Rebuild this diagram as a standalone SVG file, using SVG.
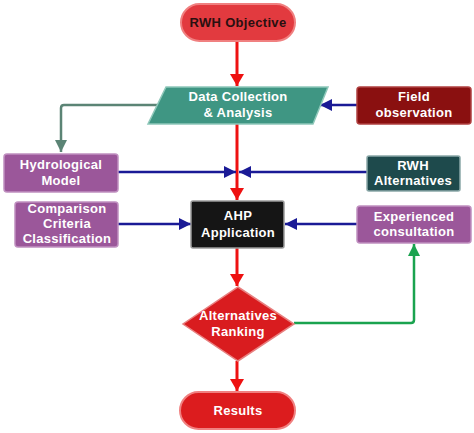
<svg xmlns="http://www.w3.org/2000/svg" width="474" height="433" viewBox="0 0 474 433">
<style>
text{font-family:"Liberation Sans",Arial,sans-serif;font-weight:bold;font-size:13px;text-anchor:middle;fill:#fff;letter-spacing:0.3px}
.dark{fill:#2a1010}
.red{stroke:#ee1111;stroke-width:3;fill:none}
.blue{stroke:#1a1a96;stroke-width:2.5;fill:none}
.grn{stroke:#1aa34f;stroke-width:2.5;fill:none}
.gry{stroke:#5b8475;stroke-width:2.5;fill:none}
</style>
<defs>
<marker id="mr" markerWidth="12" markerHeight="14" refX="12" refY="7" orient="auto" markerUnits="userSpaceOnUse"><path d="M0,0L12,7L0,14z" fill="#ee1111"/></marker>
<marker id="mb" markerWidth="12" markerHeight="12" refX="12" refY="6" orient="auto" markerUnits="userSpaceOnUse"><path d="M0,0L12,6L0,12z" fill="#1a1a96"/></marker>
<marker id="mg" markerWidth="12" markerHeight="12" refX="12" refY="6" orient="auto" markerUnits="userSpaceOnUse"><path d="M0,0L12,6L0,12z" fill="#1aa34f"/></marker>
<marker id="my" markerWidth="12" markerHeight="12" refX="12" refY="6" orient="auto" markerUnits="userSpaceOnUse"><path d="M0,0L12,6L0,12z" fill="#5b8475"/></marker>
</defs>
<g id="connectors">
<line class="red" x1="237" y1="41" x2="237" y2="86" marker-end="url(#mr)"/>
<line class="red" x1="237" y1="124" x2="237" y2="200" marker-end="url(#mr)"/>
<line class="red" x1="237" y1="248" x2="237" y2="286" marker-end="url(#mr)"/>
<line class="red" x1="237" y1="361" x2="237" y2="391" marker-end="url(#mr)"/>
<line class="blue" x1="357" y1="105" x2="320" y2="105" marker-end="url(#mb)"/>
<line class="blue" x1="118" y1="172" x2="236" y2="172" marker-end="url(#mb)"/>
<line class="blue" x1="367" y1="172" x2="239" y2="172" marker-end="url(#mb)"/>
<line class="blue" x1="118" y1="224" x2="191" y2="224" marker-end="url(#mb)"/>
<line class="blue" x1="357" y1="224" x2="285" y2="224" marker-end="url(#mb)"/>
<path class="gry" d="M157,105H64Q61,105 61,108V152" marker-end="url(#my)"/>
<path class="grn" d="M294,323H411Q414,323 414,320V244" marker-end="url(#mg)"/>
</g>
<g id="rwh-objective">
<rect x="181" y="4" width="114" height="37" rx="18.5" fill="#e23a3f" stroke="#f08080" stroke-width="2"/>
<text class="dark" x="238" y="27">RWH Objective</text>
</g>
<g id="data-collection">
<path d="M166,87H328L313,124H148z" fill="#3f9683" stroke="#8fc8ba" stroke-width="1.5"/>
<text x="238" y="101">Data Collection</text>
<text x="238" y="117">&amp; Analysis</text>
</g>
<g id="field-observation">
<rect x="357" y="87" width="114" height="37" rx="3" fill="#8a1010" stroke="#b04040" stroke-width="1.5"/>
<text x="414" y="101">Field</text>
<text x="414" y="117">observation</text>
</g>
<g id="hydrological-model">
<rect x="4" y="154" width="114" height="38" rx="3" fill="#9b579a" stroke="#c090c0" stroke-width="1.5"/>
<text x="61" y="169">Hydrological</text>
<text x="61" y="185">Model</text>
</g>
<g id="rwh-alternatives">
<rect x="367" y="156" width="93" height="35" rx="2" fill="#1e4a4c" stroke="#8aa8a8" stroke-width="1.5"/>
<text x="413" y="170">RWH</text>
<text x="413" y="185">Alternatives</text>
</g>
<g id="comparison-criteria">
<rect x="15" y="202" width="103" height="45" rx="3" fill="#9b579a" stroke="#c090c0" stroke-width="1.5"/>
<text x="67" y="213">Comparison</text>
<text x="67" y="228">Criteria</text>
<text x="67" y="243">Classification</text>
</g>
<g id="ahp-application">
<rect x="191" y="201" width="93" height="47" rx="2" fill="#151515" stroke="#9a9a9a" stroke-width="1.5"/>
<text x="238" y="220">AHP</text>
<text x="238" y="237">Application</text>
</g>
<g id="experienced-consultation">
<rect x="357" y="206" width="114" height="37" rx="3" fill="#9b579a" stroke="#c090c0" stroke-width="1.5"/>
<text x="414" y="221">Experienced</text>
<text x="414" y="236">consultation</text>
</g>
<g id="alternatives-ranking">
<path d="M238,287L294,324L238,361L183,324z" fill="#d91c1f" stroke="#e88080" stroke-width="1.5"/>
<text x="238" y="320">Alternatives</text>
<text x="238" y="336">Ranking</text>
</g>
<g id="results">
<rect x="180" y="392" width="115" height="37" rx="18.5" fill="#dc1c1e" stroke="#f08080" stroke-width="2"/>
<text x="238" y="415">Results</text>
</g>
</svg>
